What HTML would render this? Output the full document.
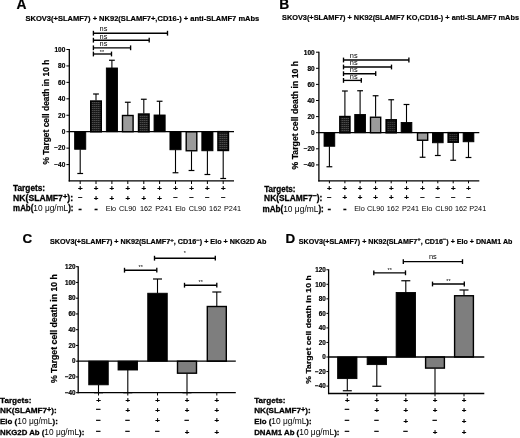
<!DOCTYPE html>
<html lang="en"><head><meta charset="utf-8"><title>Figure</title>
<style>html,body{margin:0;padding:0;background:#fff;}svg{display:block;}text{font-family:"Liberation Sans", sans-serif;}</style></head><body>
<svg width="520" height="438" viewBox="0 0 520 438">
<defs>
<pattern id="chk" width="2" height="2" patternUnits="userSpaceOnUse"><rect width="2" height="2" fill="#181818"/><rect x="0" y="0" width="1" height="1" fill="#4a4a4a"/><rect x="1" y="0" width="1" height="1" fill="#303030"/></pattern>
<pattern id="chk2" width="2" height="2" patternUnits="userSpaceOnUse"><rect width="2" height="2" fill="#101010"/><rect x="0" y="0" width="1" height="1" fill="#363636"/><rect x="1" y="0" width="1" height="1" fill="#222"/></pattern>
</defs>
<rect width="520" height="438" fill="#fff"/>
<text x="16.60" y="9.40" font-size="13.8" font-weight="bold" text-anchor="start" fill="#000"  stroke="#000" stroke-width="0.2">A</text>
<text x="25.50" y="20.60" font-size="7.6" font-weight="bold" text-anchor="start" fill="#000" textLength="233.8" lengthAdjust="spacingAndGlyphs" stroke="#000" stroke-width="0.2">SKOV3(+SLAMF7) + NK92(SLAMF7+,CD16-) + anti-SLAMF7 mAbs</text>
<line x1="80.20" y1="149.25" x2="80.20" y2="173.50" stroke="#000" stroke-width="1.1"/>
<line x1="77.30" y1="173.50" x2="83.10" y2="173.50" stroke="#000" stroke-width="1.2"/>
<rect x="74.65" y="131.70" width="11.10" height="17.55" fill="#000" stroke="#000" stroke-width="0.9"/>
<line x1="96.00" y1="100.50" x2="96.00" y2="94.00" stroke="#000" stroke-width="1.1"/>
<line x1="93.10" y1="94.00" x2="98.90" y2="94.00" stroke="#000" stroke-width="1.2"/>
<rect x="90.80" y="101.10" width="10.40" height="30.60" fill="url(#chk)" stroke="#000" stroke-width="1.6"/>
<line x1="111.90" y1="68.00" x2="111.90" y2="60.25" stroke="#000" stroke-width="1.1"/>
<line x1="109.00" y1="60.25" x2="114.80" y2="60.25" stroke="#000" stroke-width="1.2"/>
<rect x="106.35" y="68.00" width="11.10" height="63.70" fill="#000" stroke="#000" stroke-width="0.9"/>
<line x1="127.80" y1="115.00" x2="127.80" y2="102.25" stroke="#000" stroke-width="1.1"/>
<line x1="124.90" y1="102.25" x2="130.70" y2="102.25" stroke="#000" stroke-width="1.2"/>
<rect x="122.50" y="115.50" width="10.60" height="16.20" fill="#9b9b9b" stroke="#000" stroke-width="1.4"/>
<line x1="143.80" y1="113.50" x2="143.80" y2="99.25" stroke="#000" stroke-width="1.1"/>
<line x1="140.90" y1="99.25" x2="146.70" y2="99.25" stroke="#000" stroke-width="1.2"/>
<rect x="138.60" y="114.10" width="10.40" height="17.60" fill="url(#chk)" stroke="#000" stroke-width="1.6"/>
<line x1="159.60" y1="115.00" x2="159.60" y2="101.25" stroke="#000" stroke-width="1.1"/>
<line x1="156.70" y1="101.25" x2="162.50" y2="101.25" stroke="#000" stroke-width="1.2"/>
<rect x="154.05" y="115.00" width="11.10" height="16.70" fill="#000" stroke="#000" stroke-width="0.9"/>
<line x1="175.50" y1="149.75" x2="175.50" y2="172.75" stroke="#000" stroke-width="1.1"/>
<line x1="172.60" y1="172.75" x2="178.40" y2="172.75" stroke="#000" stroke-width="1.2"/>
<rect x="169.95" y="131.70" width="11.10" height="18.05" fill="#000" stroke="#000" stroke-width="0.9"/>
<line x1="191.50" y1="151.25" x2="191.50" y2="170.50" stroke="#000" stroke-width="1.1"/>
<line x1="188.60" y1="170.50" x2="194.40" y2="170.50" stroke="#000" stroke-width="1.2"/>
<rect x="186.20" y="131.70" width="10.60" height="19.05" fill="#9b9b9b" stroke="#000" stroke-width="1.4"/>
<line x1="207.40" y1="150.75" x2="207.40" y2="174.50" stroke="#000" stroke-width="1.1"/>
<line x1="204.50" y1="174.50" x2="210.30" y2="174.50" stroke="#000" stroke-width="1.2"/>
<rect x="201.85" y="131.70" width="11.10" height="19.05" fill="#000" stroke="#000" stroke-width="0.9"/>
<line x1="223.20" y1="151.00" x2="223.20" y2="178.50" stroke="#000" stroke-width="1.1"/>
<line x1="220.30" y1="178.50" x2="226.10" y2="178.50" stroke="#000" stroke-width="1.2"/>
<rect x="218.00" y="131.70" width="10.40" height="18.70" fill="url(#chk)" stroke="#000" stroke-width="1.6"/>
<line x1="69.30" y1="49.00" x2="69.30" y2="181.50" stroke="#000" stroke-width="1.3"/>
<line x1="68.70" y1="131.70" x2="234.00" y2="131.70" stroke="#000" stroke-width="1.3"/>
<line x1="68.70" y1="180.90" x2="234.00" y2="180.90" stroke="#000" stroke-width="1.3"/>
<line x1="80.20" y1="180.90" x2="80.20" y2="184.00" stroke="#000" stroke-width="1.0"/>
<line x1="96.00" y1="180.90" x2="96.00" y2="184.00" stroke="#000" stroke-width="1.0"/>
<line x1="111.90" y1="180.90" x2="111.90" y2="184.00" stroke="#000" stroke-width="1.0"/>
<line x1="127.80" y1="180.90" x2="127.80" y2="184.00" stroke="#000" stroke-width="1.0"/>
<line x1="143.80" y1="180.90" x2="143.80" y2="184.00" stroke="#000" stroke-width="1.0"/>
<line x1="159.60" y1="180.90" x2="159.60" y2="184.00" stroke="#000" stroke-width="1.0"/>
<line x1="175.50" y1="180.90" x2="175.50" y2="184.00" stroke="#000" stroke-width="1.0"/>
<line x1="191.50" y1="180.90" x2="191.50" y2="184.00" stroke="#000" stroke-width="1.0"/>
<line x1="207.40" y1="180.90" x2="207.40" y2="184.00" stroke="#000" stroke-width="1.0"/>
<line x1="223.20" y1="180.90" x2="223.20" y2="184.00" stroke="#000" stroke-width="1.0"/>
<line x1="66.40" y1="49.50" x2="69.30" y2="49.50" stroke="#000" stroke-width="1.0"/>
<text x="65.30" y="51.84" font-size="6.5" font-weight="bold" text-anchor="end" fill="#000"  stroke="#000" stroke-width="0.2">100</text>
<line x1="66.40" y1="65.94" x2="69.30" y2="65.94" stroke="#000" stroke-width="1.0"/>
<text x="65.30" y="68.28" font-size="6.5" font-weight="bold" text-anchor="end" fill="#000"  stroke="#000" stroke-width="0.2">80</text>
<line x1="66.40" y1="82.38" x2="69.30" y2="82.38" stroke="#000" stroke-width="1.0"/>
<text x="65.30" y="84.72" font-size="6.5" font-weight="bold" text-anchor="end" fill="#000"  stroke="#000" stroke-width="0.2">60</text>
<line x1="66.40" y1="98.82" x2="69.30" y2="98.82" stroke="#000" stroke-width="1.0"/>
<text x="65.30" y="101.16" font-size="6.5" font-weight="bold" text-anchor="end" fill="#000"  stroke="#000" stroke-width="0.2">40</text>
<line x1="66.40" y1="115.26" x2="69.30" y2="115.26" stroke="#000" stroke-width="1.0"/>
<text x="65.30" y="117.60" font-size="6.5" font-weight="bold" text-anchor="end" fill="#000"  stroke="#000" stroke-width="0.2">20</text>
<line x1="66.40" y1="131.70" x2="69.30" y2="131.70" stroke="#000" stroke-width="1.0"/>
<text x="65.30" y="134.04" font-size="6.5" font-weight="bold" text-anchor="end" fill="#000"  stroke="#000" stroke-width="0.2">0</text>
<line x1="66.40" y1="148.14" x2="69.30" y2="148.14" stroke="#000" stroke-width="1.0"/>
<text x="65.30" y="150.48" font-size="6.5" font-weight="bold" text-anchor="end" fill="#000"  stroke="#000" stroke-width="0.2">−20</text>
<line x1="66.40" y1="164.58" x2="69.30" y2="164.58" stroke="#000" stroke-width="1.0"/>
<text x="65.30" y="166.92" font-size="6.5" font-weight="bold" text-anchor="end" fill="#000"  stroke="#000" stroke-width="0.2">−40</text>
<text transform="translate(49.30,112.10) rotate(-90)" font-size="8.4" font-weight="bold" stroke="#000" stroke-width="0.2" text-anchor="middle" textLength="105" lengthAdjust="spacingAndGlyphs">% Target cell death in 10 h</text>
<line x1="93.40" y1="33.20" x2="167.50" y2="33.20" stroke="#000" stroke-width="1.35"/>
<line x1="93.40" y1="30.80" x2="93.40" y2="35.60" stroke="#000" stroke-width="1.35"/>
<line x1="167.50" y1="30.80" x2="167.50" y2="35.60" stroke="#000" stroke-width="1.35"/>
<text x="103.50" y="30.60" font-size="7.4" font-weight="normal" text-anchor="middle" fill="#000" >ns</text>
<line x1="93.40" y1="40.20" x2="149.20" y2="40.20" stroke="#000" stroke-width="1.35"/>
<line x1="93.40" y1="37.80" x2="93.40" y2="42.60" stroke="#000" stroke-width="1.35"/>
<line x1="149.20" y1="37.80" x2="149.20" y2="42.60" stroke="#000" stroke-width="1.35"/>
<text x="103.50" y="38.70" font-size="7.4" font-weight="normal" text-anchor="middle" fill="#000" >ns</text>
<line x1="93.40" y1="47.80" x2="130.60" y2="47.80" stroke="#000" stroke-width="1.35"/>
<line x1="93.40" y1="45.40" x2="93.40" y2="50.20" stroke="#000" stroke-width="1.35"/>
<line x1="130.60" y1="45.40" x2="130.60" y2="50.20" stroke="#000" stroke-width="1.35"/>
<text x="103.50" y="46.30" font-size="7.4" font-weight="normal" text-anchor="middle" fill="#000" >ns</text>
<line x1="93.40" y1="54.00" x2="111.50" y2="54.00" stroke="#000" stroke-width="1.35"/>
<line x1="93.40" y1="51.60" x2="93.40" y2="56.40" stroke="#000" stroke-width="1.35"/>
<line x1="111.50" y1="51.60" x2="111.50" y2="56.40" stroke="#000" stroke-width="1.35"/>
<text x="102.00" y="54.20" font-size="5.5" font-weight="normal" text-anchor="middle" fill="#000" >**</text>
<text x="13.10" y="191.20" font-size="8.2" font-weight="bold" stroke="#000" stroke-width="0.28" textLength="32" lengthAdjust="spacingAndGlyphs">Targets:</text>
<text x="13.10" y="201.10" font-size="8.2" font-weight="bold" stroke="#000" stroke-width="0.28" textLength="60" lengthAdjust="spacingAndGlyphs">NK(SLAMF7<tspan dy="-2.0" font-size="7.2">+</tspan><tspan dy="2.0">):</tspan></text>
<text x="13.10" y="211.40" font-size="8.2" font-weight="bold" stroke="#000" stroke-width="0.28" textLength="60.4" lengthAdjust="spacingAndGlyphs">mAb(<tspan font-weight="normal" stroke="none" font-size="8.6">10 μg/mL</tspan>):</text>
<text x="80.20" y="190.50" font-size="7.9" font-weight="bold" text-anchor="middle" fill="#000"  stroke="#000" stroke-width="0.2">+</text>
<text x="80.20" y="200.20" font-size="7.8" font-weight="bold" text-anchor="middle" fill="#000"  stroke="#000" stroke-width="0.2">−</text>
<text x="96.00" y="190.50" font-size="7.9" font-weight="bold" text-anchor="middle" fill="#000"  stroke="#000" stroke-width="0.2">+</text>
<text x="96.00" y="200.70" font-size="7.9" font-weight="bold" text-anchor="middle" fill="#000"  stroke="#000" stroke-width="0.2">+</text>
<text x="111.90" y="190.50" font-size="7.9" font-weight="bold" text-anchor="middle" fill="#000"  stroke="#000" stroke-width="0.2">+</text>
<text x="111.90" y="200.70" font-size="7.9" font-weight="bold" text-anchor="middle" fill="#000"  stroke="#000" stroke-width="0.2">+</text>
<text x="127.80" y="190.50" font-size="7.9" font-weight="bold" text-anchor="middle" fill="#000"  stroke="#000" stroke-width="0.2">+</text>
<text x="127.80" y="200.70" font-size="7.9" font-weight="bold" text-anchor="middle" fill="#000"  stroke="#000" stroke-width="0.2">+</text>
<text x="143.80" y="190.50" font-size="7.9" font-weight="bold" text-anchor="middle" fill="#000"  stroke="#000" stroke-width="0.2">+</text>
<text x="143.80" y="200.70" font-size="7.9" font-weight="bold" text-anchor="middle" fill="#000"  stroke="#000" stroke-width="0.2">+</text>
<text x="159.60" y="190.50" font-size="7.9" font-weight="bold" text-anchor="middle" fill="#000"  stroke="#000" stroke-width="0.2">+</text>
<text x="159.60" y="200.70" font-size="7.9" font-weight="bold" text-anchor="middle" fill="#000"  stroke="#000" stroke-width="0.2">+</text>
<text x="175.50" y="190.50" font-size="7.9" font-weight="bold" text-anchor="middle" fill="#000"  stroke="#000" stroke-width="0.2">+</text>
<text x="175.50" y="200.20" font-size="7.8" font-weight="bold" text-anchor="middle" fill="#000"  stroke="#000" stroke-width="0.2">−</text>
<text x="191.50" y="190.50" font-size="7.9" font-weight="bold" text-anchor="middle" fill="#000"  stroke="#000" stroke-width="0.2">+</text>
<text x="191.50" y="200.20" font-size="7.8" font-weight="bold" text-anchor="middle" fill="#000"  stroke="#000" stroke-width="0.2">−</text>
<text x="207.40" y="190.50" font-size="7.9" font-weight="bold" text-anchor="middle" fill="#000"  stroke="#000" stroke-width="0.2">+</text>
<text x="207.40" y="200.20" font-size="7.8" font-weight="bold" text-anchor="middle" fill="#000"  stroke="#000" stroke-width="0.2">−</text>
<text x="223.20" y="190.50" font-size="7.9" font-weight="bold" text-anchor="middle" fill="#000"  stroke="#000" stroke-width="0.2">+</text>
<text x="223.20" y="200.20" font-size="7.8" font-weight="bold" text-anchor="middle" fill="#000"  stroke="#000" stroke-width="0.2">−</text>
<text x="80.20" y="211.80" font-size="11" font-weight="bold" text-anchor="middle" fill="#000"  stroke="#000" stroke-width="0.2">-</text>
<text x="96.00" y="211.80" font-size="11" font-weight="bold" text-anchor="middle" fill="#000"  stroke="#000" stroke-width="0.2">-</text>
<text x="110.90" y="211.40" font-size="7.3" font-weight="normal" text-anchor="middle" fill="#000" >Elo</text>
<text x="127.70" y="211.40" font-size="7.3" font-weight="normal" text-anchor="middle" fill="#000" >CL90</text>
<text x="146.00" y="211.40" font-size="7.3" font-weight="normal" text-anchor="middle" fill="#000" >162</text>
<text x="163.70" y="211.40" font-size="7.3" font-weight="normal" text-anchor="middle" fill="#000" >P241</text>
<text x="180.40" y="211.40" font-size="7.3" font-weight="normal" text-anchor="middle" fill="#000" >Elo</text>
<text x="197.50" y="211.40" font-size="7.3" font-weight="normal" text-anchor="middle" fill="#000" >CL90</text>
<text x="215.20" y="211.40" font-size="7.3" font-weight="normal" text-anchor="middle" fill="#000" >162</text>
<text x="232.50" y="211.40" font-size="7.3" font-weight="normal" text-anchor="middle" fill="#000" >P241</text>
<text x="279.20" y="9.30" font-size="13.8" font-weight="bold" text-anchor="start" fill="#000"  stroke="#000" stroke-width="0.2">B</text>
<text x="282.00" y="20.40" font-size="7.5" font-weight="bold" text-anchor="start" fill="#000" textLength="237" lengthAdjust="spacingAndGlyphs" stroke="#000" stroke-width="0.2">SKOV3(+SLAMF7) + NK92(SLAMF7 KO,CD16-) + anti-SLAMF7 mAbs</text>
<line x1="329.40" y1="146.25" x2="329.40" y2="166.75" stroke="#000" stroke-width="1.1"/>
<line x1="326.50" y1="166.75" x2="332.30" y2="166.75" stroke="#000" stroke-width="1.2"/>
<rect x="324.05" y="132.70" width="10.70" height="13.55" fill="#000" stroke="#000" stroke-width="0.9"/>
<line x1="344.90" y1="116.00" x2="344.90" y2="91.00" stroke="#000" stroke-width="1.1"/>
<line x1="342.00" y1="91.00" x2="347.80" y2="91.00" stroke="#000" stroke-width="1.2"/>
<rect x="339.90" y="116.60" width="10.00" height="16.10" fill="url(#chk)" stroke="#000" stroke-width="1.6"/>
<line x1="360.10" y1="114.50" x2="360.10" y2="90.75" stroke="#000" stroke-width="1.1"/>
<line x1="357.20" y1="90.75" x2="363.00" y2="90.75" stroke="#000" stroke-width="1.2"/>
<rect x="354.75" y="114.50" width="10.70" height="18.20" fill="#000" stroke="#000" stroke-width="0.9"/>
<line x1="375.60" y1="116.75" x2="375.60" y2="95.75" stroke="#000" stroke-width="1.1"/>
<line x1="372.70" y1="95.75" x2="378.50" y2="95.75" stroke="#000" stroke-width="1.2"/>
<rect x="370.50" y="117.25" width="10.20" height="15.45" fill="#9b9b9b" stroke="#000" stroke-width="1.4"/>
<line x1="391.20" y1="119.25" x2="391.20" y2="99.75" stroke="#000" stroke-width="1.1"/>
<line x1="388.30" y1="99.75" x2="394.10" y2="99.75" stroke="#000" stroke-width="1.2"/>
<rect x="386.20" y="119.85" width="10.00" height="12.85" fill="url(#chk2)" stroke="#000" stroke-width="1.6"/>
<line x1="406.50" y1="122.50" x2="406.50" y2="104.50" stroke="#000" stroke-width="1.1"/>
<line x1="403.60" y1="104.50" x2="409.40" y2="104.50" stroke="#000" stroke-width="1.2"/>
<rect x="401.15" y="122.50" width="10.70" height="10.20" fill="#000" stroke="#000" stroke-width="0.9"/>
<line x1="422.60" y1="140.75" x2="422.60" y2="157.25" stroke="#000" stroke-width="1.1"/>
<line x1="419.70" y1="157.25" x2="425.50" y2="157.25" stroke="#000" stroke-width="1.2"/>
<rect x="417.50" y="132.70" width="10.20" height="7.55" fill="#9b9b9b" stroke="#000" stroke-width="1.4"/>
<line x1="437.80" y1="142.75" x2="437.80" y2="155.50" stroke="#000" stroke-width="1.1"/>
<line x1="434.90" y1="155.50" x2="440.70" y2="155.50" stroke="#000" stroke-width="1.2"/>
<rect x="432.45" y="132.70" width="10.70" height="10.05" fill="#000" stroke="#000" stroke-width="0.9"/>
<line x1="453.20" y1="142.75" x2="453.20" y2="160.25" stroke="#000" stroke-width="1.1"/>
<line x1="450.30" y1="160.25" x2="456.10" y2="160.25" stroke="#000" stroke-width="1.2"/>
<rect x="448.20" y="132.70" width="10.00" height="9.45" fill="url(#chk2)" stroke="#000" stroke-width="1.6"/>
<line x1="468.50" y1="141.75" x2="468.50" y2="157.50" stroke="#000" stroke-width="1.1"/>
<line x1="465.60" y1="157.50" x2="471.40" y2="157.50" stroke="#000" stroke-width="1.2"/>
<rect x="463.15" y="132.70" width="10.70" height="9.05" fill="#000" stroke="#000" stroke-width="0.9"/>
<line x1="318.90" y1="51.70" x2="318.90" y2="181.50" stroke="#000" stroke-width="1.3"/>
<line x1="318.30" y1="132.70" x2="479.30" y2="132.70" stroke="#000" stroke-width="1.3"/>
<line x1="318.30" y1="180.90" x2="479.30" y2="180.90" stroke="#000" stroke-width="1.3"/>
<line x1="329.40" y1="180.90" x2="329.40" y2="183.30" stroke="#000" stroke-width="1.0"/>
<line x1="344.90" y1="180.90" x2="344.90" y2="183.30" stroke="#000" stroke-width="1.0"/>
<line x1="360.10" y1="180.90" x2="360.10" y2="183.30" stroke="#000" stroke-width="1.0"/>
<line x1="375.60" y1="180.90" x2="375.60" y2="183.30" stroke="#000" stroke-width="1.0"/>
<line x1="391.20" y1="180.90" x2="391.20" y2="183.30" stroke="#000" stroke-width="1.0"/>
<line x1="406.50" y1="180.90" x2="406.50" y2="183.30" stroke="#000" stroke-width="1.0"/>
<line x1="422.60" y1="180.90" x2="422.60" y2="183.30" stroke="#000" stroke-width="1.0"/>
<line x1="437.80" y1="180.90" x2="437.80" y2="183.30" stroke="#000" stroke-width="1.0"/>
<line x1="453.20" y1="180.90" x2="453.20" y2="183.30" stroke="#000" stroke-width="1.0"/>
<line x1="468.50" y1="180.90" x2="468.50" y2="183.30" stroke="#000" stroke-width="1.0"/>
<line x1="316.00" y1="52.20" x2="318.90" y2="52.20" stroke="#000" stroke-width="1.0"/>
<text x="314.70" y="54.54" font-size="6.5" font-weight="bold" text-anchor="end" fill="#000"  stroke="#000" stroke-width="0.2">100</text>
<line x1="316.00" y1="68.30" x2="318.90" y2="68.30" stroke="#000" stroke-width="1.0"/>
<text x="314.70" y="70.64" font-size="6.5" font-weight="bold" text-anchor="end" fill="#000"  stroke="#000" stroke-width="0.2">80</text>
<line x1="316.00" y1="84.40" x2="318.90" y2="84.40" stroke="#000" stroke-width="1.0"/>
<text x="314.70" y="86.74" font-size="6.5" font-weight="bold" text-anchor="end" fill="#000"  stroke="#000" stroke-width="0.2">60</text>
<line x1="316.00" y1="100.50" x2="318.90" y2="100.50" stroke="#000" stroke-width="1.0"/>
<text x="314.70" y="102.84" font-size="6.5" font-weight="bold" text-anchor="end" fill="#000"  stroke="#000" stroke-width="0.2">40</text>
<line x1="316.00" y1="116.60" x2="318.90" y2="116.60" stroke="#000" stroke-width="1.0"/>
<text x="314.70" y="118.94" font-size="6.5" font-weight="bold" text-anchor="end" fill="#000"  stroke="#000" stroke-width="0.2">20</text>
<line x1="316.00" y1="132.70" x2="318.90" y2="132.70" stroke="#000" stroke-width="1.0"/>
<text x="314.70" y="135.04" font-size="6.5" font-weight="bold" text-anchor="end" fill="#000"  stroke="#000" stroke-width="0.2">0</text>
<line x1="316.00" y1="148.80" x2="318.90" y2="148.80" stroke="#000" stroke-width="1.0"/>
<text x="314.70" y="151.14" font-size="6.5" font-weight="bold" text-anchor="end" fill="#000"  stroke="#000" stroke-width="0.2">−20</text>
<line x1="316.00" y1="164.90" x2="318.90" y2="164.90" stroke="#000" stroke-width="1.0"/>
<text x="314.70" y="167.24" font-size="6.5" font-weight="bold" text-anchor="end" fill="#000"  stroke="#000" stroke-width="0.2">−40</text>
<text transform="translate(297.80,115.20) rotate(-90)" font-size="8.7" font-weight="bold" stroke="#000" stroke-width="0.2" text-anchor="middle" textLength="108.5" lengthAdjust="spacingAndGlyphs">% Target cell death in 10 h</text>
<line x1="343.50" y1="60.00" x2="408.90" y2="60.00" stroke="#000" stroke-width="1.35"/>
<line x1="343.50" y1="57.60" x2="343.50" y2="62.40" stroke="#000" stroke-width="1.35"/>
<line x1="408.90" y1="57.60" x2="408.90" y2="62.40" stroke="#000" stroke-width="1.35"/>
<text x="353.70" y="58.20" font-size="7.4" font-weight="normal" text-anchor="middle" fill="#000" >ns</text>
<line x1="343.50" y1="67.00" x2="391.50" y2="67.00" stroke="#000" stroke-width="1.35"/>
<line x1="343.50" y1="64.60" x2="343.50" y2="69.40" stroke="#000" stroke-width="1.35"/>
<line x1="391.50" y1="64.60" x2="391.50" y2="69.40" stroke="#000" stroke-width="1.35"/>
<text x="353.70" y="65.20" font-size="7.4" font-weight="normal" text-anchor="middle" fill="#000" >ns</text>
<line x1="343.50" y1="73.70" x2="375.70" y2="73.70" stroke="#000" stroke-width="1.35"/>
<line x1="343.50" y1="71.30" x2="343.50" y2="76.10" stroke="#000" stroke-width="1.35"/>
<line x1="375.70" y1="71.30" x2="375.70" y2="76.10" stroke="#000" stroke-width="1.35"/>
<text x="353.70" y="71.90" font-size="7.4" font-weight="normal" text-anchor="middle" fill="#000" >ns</text>
<line x1="343.50" y1="80.40" x2="361.30" y2="80.40" stroke="#000" stroke-width="1.35"/>
<line x1="343.50" y1="78.00" x2="343.50" y2="82.80" stroke="#000" stroke-width="1.35"/>
<line x1="361.30" y1="78.00" x2="361.30" y2="82.80" stroke="#000" stroke-width="1.35"/>
<text x="353.70" y="78.60" font-size="7.4" font-weight="normal" text-anchor="middle" fill="#000" >ns</text>
<text x="264.30" y="191.50" font-size="8.3" font-weight="bold" stroke="#000" stroke-width="0.28" textLength="31.2" lengthAdjust="spacingAndGlyphs">Targets:</text>
<text x="264.10" y="200.90" font-size="8.3" font-weight="bold" stroke="#000" stroke-width="0.28" textLength="58.3" lengthAdjust="spacingAndGlyphs">NK(SLAMF7<tspan dy="-2.6" font-size="7.2">−</tspan><tspan dy="2.6">):</tspan></text>
<text x="262.50" y="211.50" font-size="8.3" font-weight="bold" stroke="#000" stroke-width="0.28" textLength="61.3" lengthAdjust="spacingAndGlyphs">mAb(<tspan font-weight="normal" stroke="none" font-size="8.6">10 μg/mL</tspan>):</text>
<text x="329.40" y="190.80" font-size="7.9" font-weight="bold" text-anchor="middle" fill="#000"  stroke="#000" stroke-width="0.2">+</text>
<text x="329.40" y="199.80" font-size="7.8" font-weight="bold" text-anchor="middle" fill="#000"  stroke="#000" stroke-width="0.2">−</text>
<text x="344.90" y="190.80" font-size="7.9" font-weight="bold" text-anchor="middle" fill="#000"  stroke="#000" stroke-width="0.2">+</text>
<text x="344.90" y="200.30" font-size="7.9" font-weight="bold" text-anchor="middle" fill="#000"  stroke="#000" stroke-width="0.2">+</text>
<text x="360.10" y="190.80" font-size="7.9" font-weight="bold" text-anchor="middle" fill="#000"  stroke="#000" stroke-width="0.2">+</text>
<text x="360.10" y="200.30" font-size="7.9" font-weight="bold" text-anchor="middle" fill="#000"  stroke="#000" stroke-width="0.2">+</text>
<text x="375.60" y="190.80" font-size="7.9" font-weight="bold" text-anchor="middle" fill="#000"  stroke="#000" stroke-width="0.2">+</text>
<text x="375.60" y="200.30" font-size="7.9" font-weight="bold" text-anchor="middle" fill="#000"  stroke="#000" stroke-width="0.2">+</text>
<text x="391.20" y="190.80" font-size="7.9" font-weight="bold" text-anchor="middle" fill="#000"  stroke="#000" stroke-width="0.2">+</text>
<text x="391.20" y="200.30" font-size="7.9" font-weight="bold" text-anchor="middle" fill="#000"  stroke="#000" stroke-width="0.2">+</text>
<text x="406.50" y="190.80" font-size="7.9" font-weight="bold" text-anchor="middle" fill="#000"  stroke="#000" stroke-width="0.2">+</text>
<text x="406.50" y="200.30" font-size="7.9" font-weight="bold" text-anchor="middle" fill="#000"  stroke="#000" stroke-width="0.2">+</text>
<text x="422.60" y="190.80" font-size="7.9" font-weight="bold" text-anchor="middle" fill="#000"  stroke="#000" stroke-width="0.2">+</text>
<text x="422.60" y="199.80" font-size="7.8" font-weight="bold" text-anchor="middle" fill="#000"  stroke="#000" stroke-width="0.2">−</text>
<text x="437.80" y="190.80" font-size="7.9" font-weight="bold" text-anchor="middle" fill="#000"  stroke="#000" stroke-width="0.2">+</text>
<text x="437.80" y="199.80" font-size="7.8" font-weight="bold" text-anchor="middle" fill="#000"  stroke="#000" stroke-width="0.2">−</text>
<text x="453.20" y="190.80" font-size="7.9" font-weight="bold" text-anchor="middle" fill="#000"  stroke="#000" stroke-width="0.2">+</text>
<text x="453.20" y="199.80" font-size="7.8" font-weight="bold" text-anchor="middle" fill="#000"  stroke="#000" stroke-width="0.2">−</text>
<text x="468.50" y="190.80" font-size="7.9" font-weight="bold" text-anchor="middle" fill="#000"  stroke="#000" stroke-width="0.2">+</text>
<text x="468.50" y="199.80" font-size="7.8" font-weight="bold" text-anchor="middle" fill="#000"  stroke="#000" stroke-width="0.2">−</text>
<text x="329.40" y="211.60" font-size="11" font-weight="bold" text-anchor="middle" fill="#000"  stroke="#000" stroke-width="0.2">-</text>
<text x="344.90" y="211.60" font-size="11" font-weight="bold" text-anchor="middle" fill="#000"  stroke="#000" stroke-width="0.2">-</text>
<text x="359.50" y="211.20" font-size="7.3" font-weight="normal" text-anchor="middle" fill="#000" >Elo</text>
<text x="375.70" y="211.20" font-size="7.3" font-weight="normal" text-anchor="middle" fill="#000" >CL90</text>
<text x="392.90" y="211.20" font-size="7.3" font-weight="normal" text-anchor="middle" fill="#000" >162</text>
<text x="410.50" y="211.20" font-size="7.3" font-weight="normal" text-anchor="middle" fill="#000" >P241</text>
<text x="427.00" y="211.20" font-size="7.3" font-weight="normal" text-anchor="middle" fill="#000" >Elo</text>
<text x="443.90" y="211.20" font-size="7.3" font-weight="normal" text-anchor="middle" fill="#000" >CL90</text>
<text x="461.00" y="211.20" font-size="7.3" font-weight="normal" text-anchor="middle" fill="#000" >162</text>
<text x="477.70" y="211.20" font-size="7.3" font-weight="normal" text-anchor="middle" fill="#000" >P241</text>
<text x="22.40" y="243.30" font-size="13.4" font-weight="bold" text-anchor="start" fill="#000"  stroke="#000" stroke-width="0.2">C</text>
<text x="50.00" y="244.00" font-size="7" font-weight="bold" text-anchor="start" fill="#000" textLength="216.4" lengthAdjust="spacingAndGlyphs" stroke="#000" stroke-width="0.2">SKOV3(+SLAMF7) + NK92(SLAMF7<tspan dy="-2.2" font-size="5.9">+</tspan><tspan dy="2.2">, CD16</tspan><tspan dy="-2.4" font-size="5.9">−</tspan><tspan dy="2.4">) + Elo + NKG2D Ab</tspan></text>
<line x1="98.50" y1="384.80" x2="98.50" y2="392.70" stroke="#000" stroke-width="1.1"/>
<line x1="94.00" y1="392.70" x2="103.00" y2="392.70" stroke="#000" stroke-width="1.2"/>
<rect x="88.75" y="361.20" width="19.50" height="23.60" fill="#000" stroke="#000" stroke-width="0.9"/>
<line x1="127.80" y1="370.00" x2="127.80" y2="392.70" stroke="#000" stroke-width="1.1"/>
<line x1="123.30" y1="392.70" x2="132.30" y2="392.70" stroke="#000" stroke-width="1.2"/>
<rect x="118.05" y="361.20" width="19.50" height="8.80" fill="#000" stroke="#000" stroke-width="0.9"/>
<line x1="157.50" y1="293.25" x2="157.50" y2="279.00" stroke="#000" stroke-width="1.1"/>
<line x1="153.00" y1="279.00" x2="162.00" y2="279.00" stroke="#000" stroke-width="1.2"/>
<rect x="147.75" y="293.25" width="19.50" height="67.95" fill="#000" stroke="#000" stroke-width="0.9"/>
<line x1="187.00" y1="373.70" x2="187.00" y2="392.70" stroke="#000" stroke-width="1.1"/>
<line x1="182.50" y1="392.70" x2="191.50" y2="392.70" stroke="#000" stroke-width="1.2"/>
<rect x="177.50" y="361.20" width="19.00" height="12.00" fill="#7e7e7e" stroke="#000" stroke-width="1.4"/>
<line x1="216.80" y1="306.00" x2="216.80" y2="292.00" stroke="#000" stroke-width="1.1"/>
<line x1="212.30" y1="292.00" x2="221.30" y2="292.00" stroke="#000" stroke-width="1.2"/>
<rect x="207.30" y="306.50" width="19.00" height="54.70" fill="#7e7e7e" stroke="#000" stroke-width="1.4"/>
<line x1="78.20" y1="266.20" x2="78.20" y2="393.30" stroke="#000" stroke-width="1.3"/>
<line x1="77.60" y1="361.20" x2="235.80" y2="361.20" stroke="#000" stroke-width="1.3"/>
<line x1="77.60" y1="392.70" x2="235.80" y2="392.70" stroke="#000" stroke-width="1.3"/>
<line x1="98.50" y1="392.70" x2="98.50" y2="395.50" stroke="#000" stroke-width="1.0"/>
<line x1="127.80" y1="392.70" x2="127.80" y2="395.50" stroke="#000" stroke-width="1.0"/>
<line x1="157.50" y1="392.70" x2="157.50" y2="395.50" stroke="#000" stroke-width="1.0"/>
<line x1="187.00" y1="392.70" x2="187.00" y2="395.50" stroke="#000" stroke-width="1.0"/>
<line x1="216.80" y1="392.70" x2="216.80" y2="395.50" stroke="#000" stroke-width="1.0"/>
<line x1="76.00" y1="266.70" x2="78.20" y2="266.70" stroke="#000" stroke-width="1.0"/>
<text x="75.60" y="268.97" font-size="6.3" font-weight="bold" text-anchor="end" fill="#000"  stroke="#000" stroke-width="0.2">120</text>
<line x1="76.00" y1="282.45" x2="78.20" y2="282.45" stroke="#000" stroke-width="1.0"/>
<text x="75.60" y="284.72" font-size="6.3" font-weight="bold" text-anchor="end" fill="#000"  stroke="#000" stroke-width="0.2">100</text>
<line x1="76.00" y1="298.20" x2="78.20" y2="298.20" stroke="#000" stroke-width="1.0"/>
<text x="75.60" y="300.47" font-size="6.3" font-weight="bold" text-anchor="end" fill="#000"  stroke="#000" stroke-width="0.2">80</text>
<line x1="76.00" y1="313.95" x2="78.20" y2="313.95" stroke="#000" stroke-width="1.0"/>
<text x="75.60" y="316.22" font-size="6.3" font-weight="bold" text-anchor="end" fill="#000"  stroke="#000" stroke-width="0.2">60</text>
<line x1="76.00" y1="329.70" x2="78.20" y2="329.70" stroke="#000" stroke-width="1.0"/>
<text x="75.60" y="331.97" font-size="6.3" font-weight="bold" text-anchor="end" fill="#000"  stroke="#000" stroke-width="0.2">40</text>
<line x1="76.00" y1="345.45" x2="78.20" y2="345.45" stroke="#000" stroke-width="1.0"/>
<text x="75.60" y="347.72" font-size="6.3" font-weight="bold" text-anchor="end" fill="#000"  stroke="#000" stroke-width="0.2">20</text>
<line x1="76.00" y1="361.20" x2="78.20" y2="361.20" stroke="#000" stroke-width="1.0"/>
<text x="75.60" y="363.47" font-size="6.3" font-weight="bold" text-anchor="end" fill="#000"  stroke="#000" stroke-width="0.2">0</text>
<line x1="76.00" y1="376.95" x2="78.20" y2="376.95" stroke="#000" stroke-width="1.0"/>
<text x="75.60" y="379.22" font-size="6.3" font-weight="bold" text-anchor="end" fill="#000"  stroke="#000" stroke-width="0.2">−20</text>
<line x1="76.00" y1="392.70" x2="78.20" y2="392.70" stroke="#000" stroke-width="1.0"/>
<text x="75.60" y="394.97" font-size="6.3" font-weight="bold" text-anchor="end" fill="#000"  stroke="#000" stroke-width="0.2">−40</text>
<text transform="translate(56.90,328.60) rotate(-90)" font-size="8.2" font-weight="bold" stroke="#000" stroke-width="0.2" text-anchor="middle" textLength="109" lengthAdjust="spacingAndGlyphs">% Target cell death in 10 h</text>
<line x1="124.50" y1="270.20" x2="156.80" y2="270.20" stroke="#000" stroke-width="1.35"/>
<line x1="124.50" y1="267.80" x2="124.50" y2="272.60" stroke="#000" stroke-width="1.35"/>
<line x1="156.80" y1="267.80" x2="156.80" y2="272.60" stroke="#000" stroke-width="1.35"/>
<text x="140.65" y="269.00" font-size="5.5" font-weight="normal" text-anchor="middle" fill="#000" >**</text>
<line x1="154.50" y1="258.20" x2="215.30" y2="258.20" stroke="#000" stroke-width="1.35"/>
<line x1="154.50" y1="255.80" x2="154.50" y2="260.60" stroke="#000" stroke-width="1.35"/>
<line x1="215.30" y1="255.80" x2="215.30" y2="260.60" stroke="#000" stroke-width="1.35"/>
<text x="184.90" y="255.00" font-size="5.5" font-weight="normal" text-anchor="middle" fill="#000" >*</text>
<line x1="184.50" y1="285.20" x2="216.80" y2="285.20" stroke="#000" stroke-width="1.35"/>
<line x1="184.50" y1="282.80" x2="184.50" y2="287.60" stroke="#000" stroke-width="1.35"/>
<line x1="216.80" y1="282.80" x2="216.80" y2="287.60" stroke="#000" stroke-width="1.35"/>
<text x="200.65" y="284.00" font-size="5.5" font-weight="normal" text-anchor="middle" fill="#000" >**</text>
<text x="0.00" y="402.90" font-size="8.1" font-weight="bold" stroke="#000" stroke-width="0.28" textLength="31.6" lengthAdjust="spacingAndGlyphs">Targets:</text>
<text x="0.00" y="413.40" font-size="8.1" font-weight="bold" stroke="#000" stroke-width="0.28" textLength="56.8" lengthAdjust="spacingAndGlyphs">NK(SLAMF7<tspan dy="-1.3" font-size="7.2">+</tspan><tspan dy="1.3">):</tspan></text>
<text x="0.00" y="424.00" font-size="8.1" font-weight="bold" stroke="#000" stroke-width="0.28" textLength="57.8" lengthAdjust="spacingAndGlyphs">Elo (<tspan font-weight="normal" stroke="none" font-size="8.6">10 μg/mL</tspan>):</text>
<text x="0.00" y="434.60" font-size="8.1" font-weight="bold" stroke="#000" stroke-width="0.28" textLength="84.3" lengthAdjust="spacingAndGlyphs">NKG2D Ab (<tspan font-weight="normal" stroke="none" font-size="8.6">10 μg/mL</tspan>):</text>
<text x="98.50" y="403.00" font-size="7.9" font-weight="bold" text-anchor="middle" fill="#000"  stroke="#000" stroke-width="0.2">+</text>
<text x="127.80" y="403.00" font-size="7.9" font-weight="bold" text-anchor="middle" fill="#000"  stroke="#000" stroke-width="0.2">+</text>
<text x="157.50" y="403.00" font-size="7.9" font-weight="bold" text-anchor="middle" fill="#000"  stroke="#000" stroke-width="0.2">+</text>
<text x="187.00" y="403.00" font-size="7.9" font-weight="bold" text-anchor="middle" fill="#000"  stroke="#000" stroke-width="0.2">+</text>
<text x="216.80" y="403.00" font-size="7.9" font-weight="bold" text-anchor="middle" fill="#000"  stroke="#000" stroke-width="0.2">+</text>
<text x="98.50" y="412.20" font-size="8.4" font-weight="bold" text-anchor="middle" fill="#000"  stroke="#000" stroke-width="0.2">−</text>
<text x="127.80" y="412.80" font-size="7.9" font-weight="bold" text-anchor="middle" fill="#000"  stroke="#000" stroke-width="0.2">+</text>
<text x="157.50" y="412.80" font-size="7.9" font-weight="bold" text-anchor="middle" fill="#000"  stroke="#000" stroke-width="0.2">+</text>
<text x="187.00" y="412.80" font-size="7.9" font-weight="bold" text-anchor="middle" fill="#000"  stroke="#000" stroke-width="0.2">+</text>
<text x="216.80" y="412.80" font-size="7.9" font-weight="bold" text-anchor="middle" fill="#000"  stroke="#000" stroke-width="0.2">+</text>
<text x="98.50" y="422.70" font-size="8.4" font-weight="bold" text-anchor="middle" fill="#000"  stroke="#000" stroke-width="0.2">−</text>
<text x="127.80" y="422.70" font-size="8.4" font-weight="bold" text-anchor="middle" fill="#000"  stroke="#000" stroke-width="0.2">−</text>
<text x="157.50" y="423.30" font-size="7.9" font-weight="bold" text-anchor="middle" fill="#000"  stroke="#000" stroke-width="0.2">+</text>
<text x="187.00" y="422.70" font-size="8.4" font-weight="bold" text-anchor="middle" fill="#000"  stroke="#000" stroke-width="0.2">−</text>
<text x="216.80" y="423.30" font-size="7.9" font-weight="bold" text-anchor="middle" fill="#000"  stroke="#000" stroke-width="0.2">+</text>
<text x="98.50" y="434.20" font-size="8.4" font-weight="bold" text-anchor="middle" fill="#000"  stroke="#000" stroke-width="0.2">−</text>
<text x="127.80" y="434.20" font-size="8.4" font-weight="bold" text-anchor="middle" fill="#000"  stroke="#000" stroke-width="0.2">−</text>
<text x="157.50" y="434.20" font-size="8.4" font-weight="bold" text-anchor="middle" fill="#000"  stroke="#000" stroke-width="0.2">−</text>
<text x="187.00" y="434.80" font-size="7.9" font-weight="bold" text-anchor="middle" fill="#000"  stroke="#000" stroke-width="0.2">+</text>
<text x="216.80" y="434.80" font-size="7.9" font-weight="bold" text-anchor="middle" fill="#000"  stroke="#000" stroke-width="0.2">+</text>
<text x="285.50" y="243.30" font-size="13.4" font-weight="bold" text-anchor="start" fill="#000"  stroke="#000" stroke-width="0.2">D</text>
<text x="298.80" y="243.50" font-size="7" font-weight="bold" text-anchor="start" fill="#000" textLength="213.6" lengthAdjust="spacingAndGlyphs" stroke="#000" stroke-width="0.2">SKOV3(+SLAMF7) + NK92(SLAMF7<tspan dy="-2.2" font-size="5.9">+</tspan><tspan dy="2.2">, CD16</tspan><tspan dy="-2.4" font-size="5.9">−</tspan><tspan dy="2.4">) + Elo + DNAM1 Ab</tspan></text>
<line x1="347.30" y1="378.60" x2="347.30" y2="390.75" stroke="#000" stroke-width="1.1"/>
<line x1="342.80" y1="390.75" x2="351.80" y2="390.75" stroke="#000" stroke-width="1.2"/>
<rect x="337.65" y="357.00" width="19.30" height="21.60" fill="#000" stroke="#000" stroke-width="0.9"/>
<line x1="376.80" y1="364.60" x2="376.80" y2="386.25" stroke="#000" stroke-width="1.1"/>
<line x1="372.30" y1="386.25" x2="381.30" y2="386.25" stroke="#000" stroke-width="1.2"/>
<rect x="367.15" y="357.00" width="19.30" height="7.60" fill="#000" stroke="#000" stroke-width="0.9"/>
<line x1="405.80" y1="292.50" x2="405.80" y2="280.75" stroke="#000" stroke-width="1.1"/>
<line x1="401.30" y1="280.75" x2="410.30" y2="280.75" stroke="#000" stroke-width="1.2"/>
<rect x="396.15" y="292.50" width="19.30" height="64.50" fill="#000" stroke="#000" stroke-width="0.9"/>
<line x1="435.00" y1="368.60" x2="435.00" y2="393.50" stroke="#000" stroke-width="1.1"/>
<line x1="430.50" y1="393.50" x2="439.50" y2="393.50" stroke="#000" stroke-width="1.2"/>
<rect x="425.60" y="357.00" width="18.80" height="11.10" fill="#7e7e7e" stroke="#000" stroke-width="1.4"/>
<line x1="464.00" y1="295.25" x2="464.00" y2="290.00" stroke="#000" stroke-width="1.1"/>
<line x1="459.50" y1="290.00" x2="468.50" y2="290.00" stroke="#000" stroke-width="1.2"/>
<rect x="454.60" y="295.75" width="18.80" height="61.25" fill="#7e7e7e" stroke="#000" stroke-width="1.4"/>
<line x1="328.60" y1="269.26" x2="328.60" y2="394.10" stroke="#000" stroke-width="1.3"/>
<line x1="328.00" y1="357.00" x2="484.30" y2="357.00" stroke="#000" stroke-width="1.3"/>
<line x1="328.00" y1="393.50" x2="484.30" y2="393.50" stroke="#000" stroke-width="1.3"/>
<line x1="347.30" y1="393.50" x2="347.30" y2="396.30" stroke="#000" stroke-width="1.0"/>
<line x1="376.80" y1="393.50" x2="376.80" y2="396.30" stroke="#000" stroke-width="1.0"/>
<line x1="405.80" y1="393.50" x2="405.80" y2="396.30" stroke="#000" stroke-width="1.0"/>
<line x1="435.00" y1="393.50" x2="435.00" y2="396.30" stroke="#000" stroke-width="1.0"/>
<line x1="464.00" y1="393.50" x2="464.00" y2="396.30" stroke="#000" stroke-width="1.0"/>
<line x1="326.40" y1="269.76" x2="328.60" y2="269.76" stroke="#000" stroke-width="1.0"/>
<text x="325.80" y="272.03" font-size="6.3" font-weight="bold" text-anchor="end" fill="#000"  stroke="#000" stroke-width="0.2">120</text>
<line x1="326.40" y1="284.30" x2="328.60" y2="284.30" stroke="#000" stroke-width="1.0"/>
<text x="325.80" y="286.57" font-size="6.3" font-weight="bold" text-anchor="end" fill="#000"  stroke="#000" stroke-width="0.2">100</text>
<line x1="326.40" y1="298.84" x2="328.60" y2="298.84" stroke="#000" stroke-width="1.0"/>
<text x="325.80" y="301.11" font-size="6.3" font-weight="bold" text-anchor="end" fill="#000"  stroke="#000" stroke-width="0.2">80</text>
<line x1="326.40" y1="313.38" x2="328.60" y2="313.38" stroke="#000" stroke-width="1.0"/>
<text x="325.80" y="315.65" font-size="6.3" font-weight="bold" text-anchor="end" fill="#000"  stroke="#000" stroke-width="0.2">60</text>
<line x1="326.40" y1="327.92" x2="328.60" y2="327.92" stroke="#000" stroke-width="1.0"/>
<text x="325.80" y="330.19" font-size="6.3" font-weight="bold" text-anchor="end" fill="#000"  stroke="#000" stroke-width="0.2">40</text>
<line x1="326.40" y1="342.46" x2="328.60" y2="342.46" stroke="#000" stroke-width="1.0"/>
<text x="325.80" y="344.73" font-size="6.3" font-weight="bold" text-anchor="end" fill="#000"  stroke="#000" stroke-width="0.2">20</text>
<line x1="326.40" y1="357.00" x2="328.60" y2="357.00" stroke="#000" stroke-width="1.0"/>
<text x="325.80" y="359.27" font-size="6.3" font-weight="bold" text-anchor="end" fill="#000"  stroke="#000" stroke-width="0.2">0</text>
<line x1="326.40" y1="371.54" x2="328.60" y2="371.54" stroke="#000" stroke-width="1.0"/>
<text x="325.80" y="373.81" font-size="6.3" font-weight="bold" text-anchor="end" fill="#000"  stroke="#000" stroke-width="0.2">−20</text>
<line x1="326.40" y1="386.08" x2="328.60" y2="386.08" stroke="#000" stroke-width="1.0"/>
<text x="325.80" y="388.35" font-size="6.3" font-weight="bold" text-anchor="end" fill="#000"  stroke="#000" stroke-width="0.2">−40</text>
<text transform="translate(311.00,329.50) rotate(-90)" font-size="8.1" font-weight="bold" stroke="#000" stroke-width="0.2" text-anchor="middle" textLength="108.5" lengthAdjust="spacingAndGlyphs">% Target cell death in 10 h</text>
<line x1="373.80" y1="272.80" x2="405.50" y2="272.80" stroke="#000" stroke-width="1.35"/>
<line x1="373.80" y1="270.40" x2="373.80" y2="275.20" stroke="#000" stroke-width="1.35"/>
<line x1="405.50" y1="270.40" x2="405.50" y2="275.20" stroke="#000" stroke-width="1.35"/>
<text x="389.65" y="271.60" font-size="5.5" font-weight="normal" text-anchor="middle" fill="#000" >**</text>
<line x1="403.30" y1="261.60" x2="462.50" y2="261.60" stroke="#000" stroke-width="1.35"/>
<line x1="403.30" y1="259.20" x2="403.30" y2="264.00" stroke="#000" stroke-width="1.35"/>
<line x1="462.50" y1="259.20" x2="462.50" y2="264.00" stroke="#000" stroke-width="1.35"/>
<text x="432.90" y="258.60" font-size="7.4" font-weight="normal" text-anchor="middle" fill="#000" >ns</text>
<line x1="432.50" y1="284.00" x2="464.30" y2="284.00" stroke="#000" stroke-width="1.35"/>
<line x1="432.50" y1="281.60" x2="432.50" y2="286.40" stroke="#000" stroke-width="1.35"/>
<line x1="464.30" y1="281.60" x2="464.30" y2="286.40" stroke="#000" stroke-width="1.35"/>
<text x="448.40" y="282.80" font-size="5.5" font-weight="normal" text-anchor="middle" fill="#000" >**</text>
<text x="254.20" y="403.30" font-size="8.1" font-weight="bold" stroke="#000" stroke-width="0.28" textLength="31.4" lengthAdjust="spacingAndGlyphs">Targets:</text>
<text x="254.20" y="413.40" font-size="8.1" font-weight="bold" stroke="#000" stroke-width="0.28" textLength="56.4" lengthAdjust="spacingAndGlyphs">NK(SLAMF7<tspan dy="-1.3" font-size="7.2">+</tspan><tspan dy="1.3">):</tspan></text>
<text x="254.20" y="424.00" font-size="8.1" font-weight="bold" stroke="#000" stroke-width="0.28" textLength="57.4" lengthAdjust="spacingAndGlyphs">Elo (<tspan font-weight="normal" stroke="none" font-size="8.6">10 μg/mL</tspan>):</text>
<text x="254.20" y="434.60" font-size="8.1" font-weight="bold" stroke="#000" stroke-width="0.28" textLength="85.2" lengthAdjust="spacingAndGlyphs">DNAM1 Ab (<tspan font-weight="normal" stroke="none" font-size="8.6">10 μg/mL</tspan>):</text>
<text x="347.30" y="403.10" font-size="7.9" font-weight="bold" text-anchor="middle" fill="#000"  stroke="#000" stroke-width="0.2">+</text>
<text x="376.80" y="403.10" font-size="7.9" font-weight="bold" text-anchor="middle" fill="#000"  stroke="#000" stroke-width="0.2">+</text>
<text x="405.80" y="403.10" font-size="7.9" font-weight="bold" text-anchor="middle" fill="#000"  stroke="#000" stroke-width="0.2">+</text>
<text x="435.00" y="403.10" font-size="7.9" font-weight="bold" text-anchor="middle" fill="#000"  stroke="#000" stroke-width="0.2">+</text>
<text x="464.00" y="403.10" font-size="7.9" font-weight="bold" text-anchor="middle" fill="#000"  stroke="#000" stroke-width="0.2">+</text>
<text x="347.30" y="412.40" font-size="8.4" font-weight="bold" text-anchor="middle" fill="#000"  stroke="#000" stroke-width="0.2">−</text>
<text x="376.80" y="413.00" font-size="7.9" font-weight="bold" text-anchor="middle" fill="#000"  stroke="#000" stroke-width="0.2">+</text>
<text x="405.80" y="413.00" font-size="7.9" font-weight="bold" text-anchor="middle" fill="#000"  stroke="#000" stroke-width="0.2">+</text>
<text x="435.00" y="413.00" font-size="7.9" font-weight="bold" text-anchor="middle" fill="#000"  stroke="#000" stroke-width="0.2">+</text>
<text x="464.00" y="413.00" font-size="7.9" font-weight="bold" text-anchor="middle" fill="#000"  stroke="#000" stroke-width="0.2">+</text>
<text x="347.30" y="423.10" font-size="8.4" font-weight="bold" text-anchor="middle" fill="#000"  stroke="#000" stroke-width="0.2">−</text>
<text x="376.80" y="423.10" font-size="8.4" font-weight="bold" text-anchor="middle" fill="#000"  stroke="#000" stroke-width="0.2">−</text>
<text x="405.80" y="423.70" font-size="7.9" font-weight="bold" text-anchor="middle" fill="#000"  stroke="#000" stroke-width="0.2">+</text>
<text x="435.00" y="423.10" font-size="8.4" font-weight="bold" text-anchor="middle" fill="#000"  stroke="#000" stroke-width="0.2">−</text>
<text x="464.00" y="423.70" font-size="7.9" font-weight="bold" text-anchor="middle" fill="#000"  stroke="#000" stroke-width="0.2">+</text>
<text x="347.30" y="434.30" font-size="8.4" font-weight="bold" text-anchor="middle" fill="#000"  stroke="#000" stroke-width="0.2">−</text>
<text x="376.80" y="434.30" font-size="8.4" font-weight="bold" text-anchor="middle" fill="#000"  stroke="#000" stroke-width="0.2">−</text>
<text x="405.80" y="434.30" font-size="8.4" font-weight="bold" text-anchor="middle" fill="#000"  stroke="#000" stroke-width="0.2">−</text>
<text x="435.00" y="434.90" font-size="7.9" font-weight="bold" text-anchor="middle" fill="#000"  stroke="#000" stroke-width="0.2">+</text>
<text x="464.00" y="434.90" font-size="7.9" font-weight="bold" text-anchor="middle" fill="#000"  stroke="#000" stroke-width="0.2">+</text>
</svg></body></html>
